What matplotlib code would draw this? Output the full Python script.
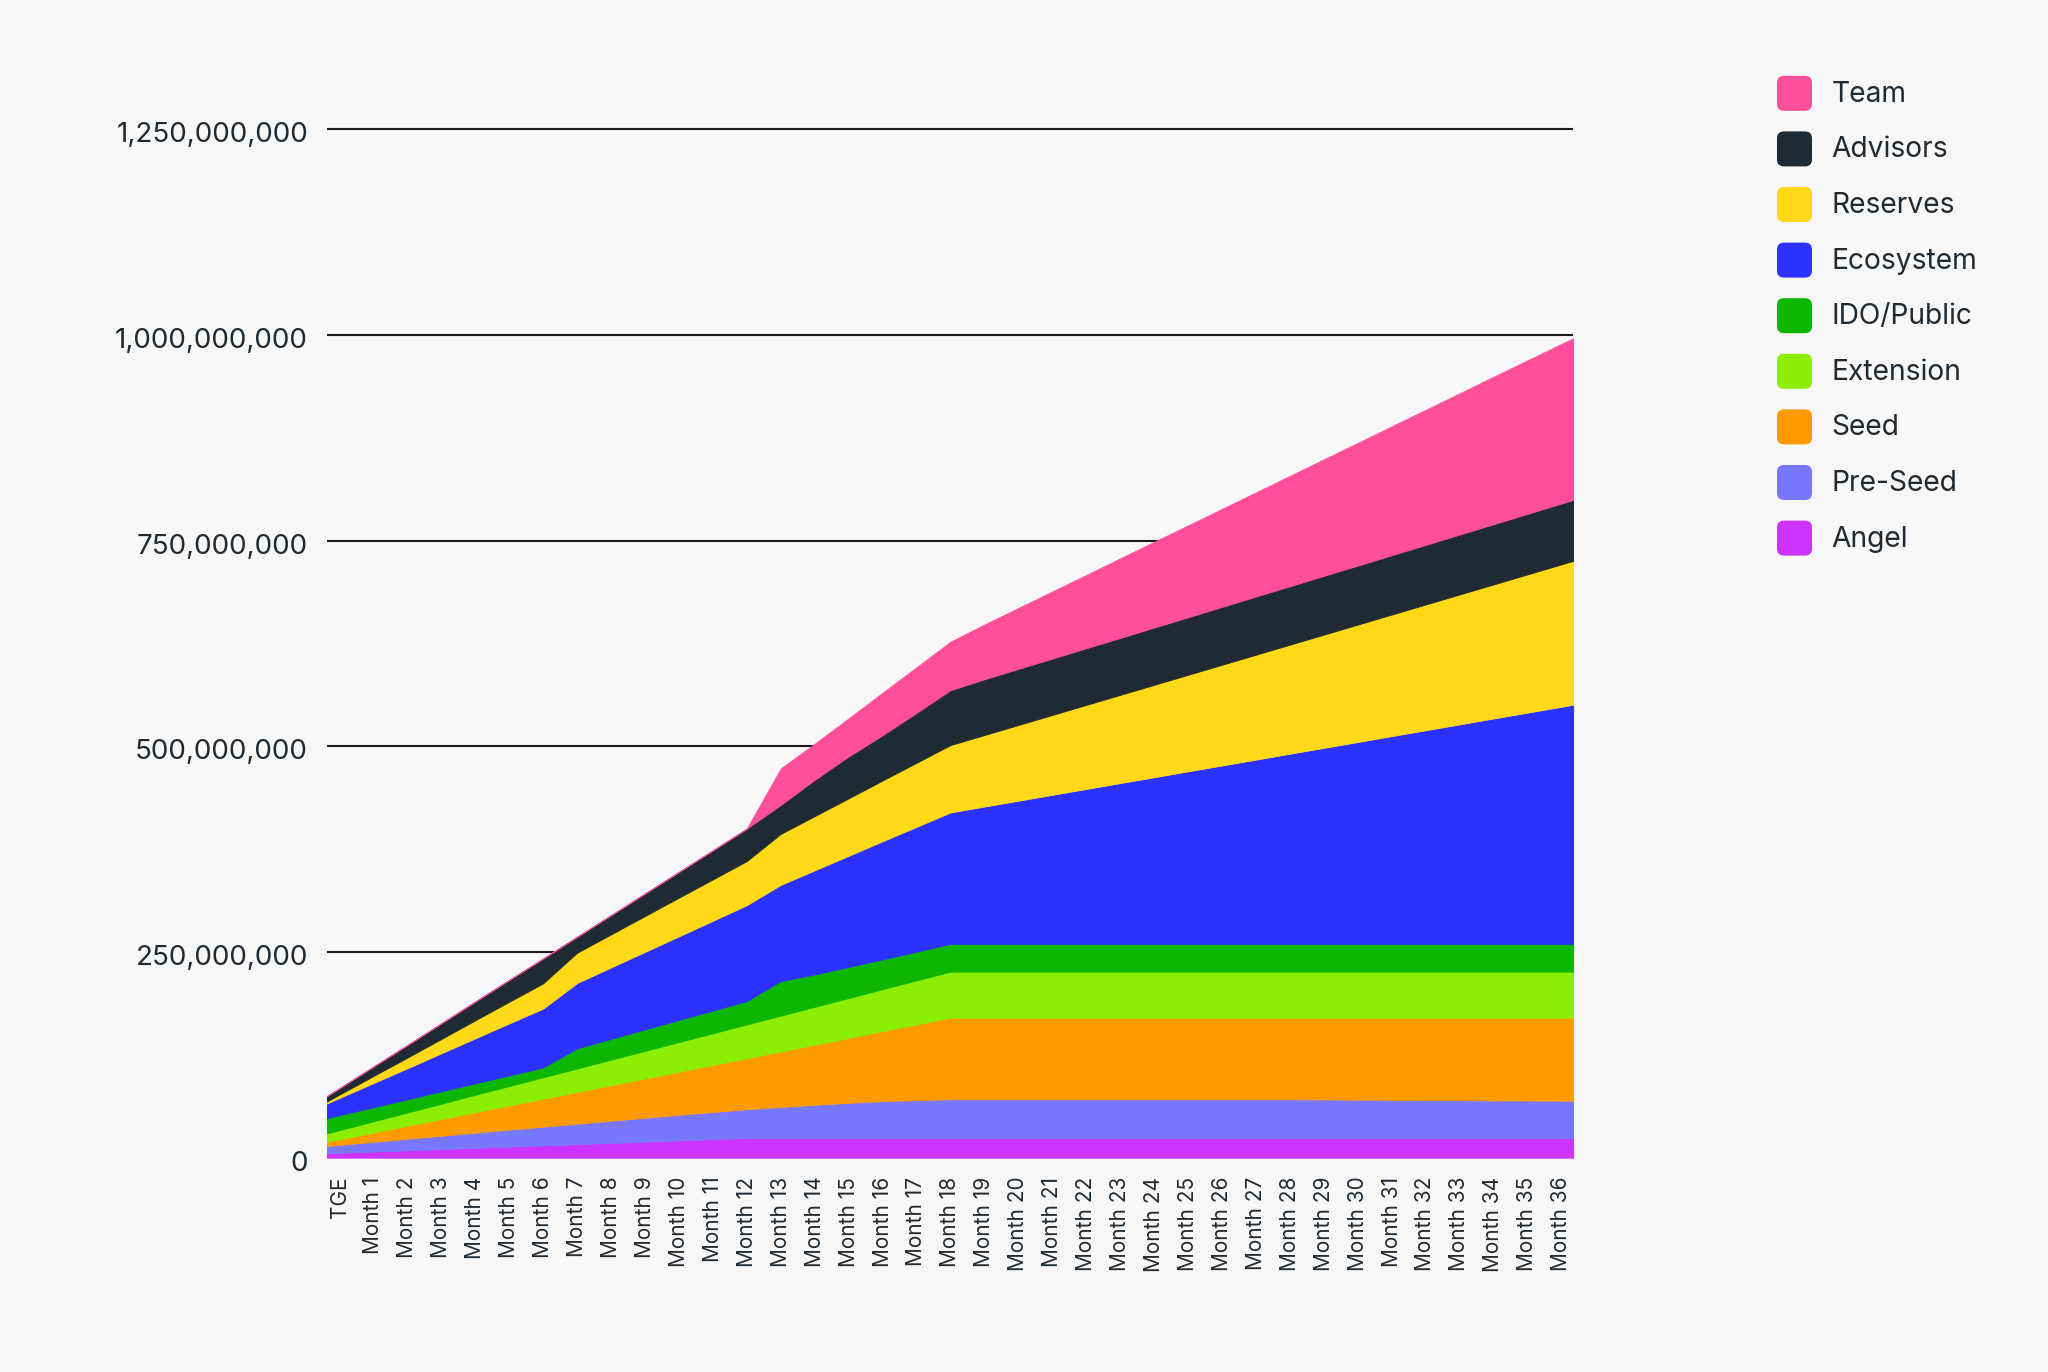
import numpy as np
import matplotlib
matplotlib.use("Agg")
import matplotlib.pyplot as plt
from matplotlib.patches import FancyBboxPatch
from matplotlib.ticker import FuncFormatter
from matplotlib.transforms import ScaledTranslation

plt.rcParams['font.family'] = ['Inter', 'DejaVu Sans']

months = list(range(37))
month_labels = ['TGE'] + ['Month %d' % i for i in range(1, 37)]

# unlocked tokens per allocation, in millions
angel = [6.0, 7.5, 9.0, 10.5, 12.0, 13.5, 15.0, 16.5, 18.0, 19.5, 21.0, 22.5, 24.0,
         24.0, 24.0, 24.0, 24.0, 24.0, 24.0, 24.0, 24.0, 24.0, 24.0, 24.0, 24.0,
         24.0, 24.0, 24.0, 24.0, 24.0, 24.0, 24.0, 24.0, 24.0, 24.0, 24.0, 24.0]
pre_seed = [9.6, 11.8, 14.0, 16.2, 18.4, 20.6, 22.7, 24.8, 26.9, 29.0, 31.1, 33.0, 34.9,
            37.6, 40.3, 42.7, 44.8, 46.0, 47.0, 47.0, 47.0, 47.0, 47.0, 47.0, 47.0,
            47.0, 47.0, 47.0, 47.0, 46.8, 46.6, 46.4, 46.2, 46.0, 45.7, 45.5, 45.3]
seed = [6.8, 11.3, 15.8, 20.3, 24.9, 29.4, 34.0, 38.6, 43.2, 47.8, 52.4, 57.2, 62.0,
        67.5, 73.0, 78.8, 85.0, 92.0, 99.2, 99.2, 99.2, 99.2, 99.2, 99.2, 99.2,
        99.2, 99.2, 99.2, 99.2, 99.4, 99.6, 99.8, 100.0, 100.2, 100.5, 100.7, 100.9]
extension = [11.1, 13.6, 16.1, 18.6, 21.1, 23.6, 26.0, 28.5, 31.0, 33.5, 36.0, 38.5, 41.0,
             43.5, 46.0, 48.5, 51.0, 53.4, 55.9, 55.9, 55.9, 55.9, 55.9, 55.9, 55.9,
             55.9, 55.9, 55.9, 55.9, 55.9, 55.9, 55.9, 55.9, 55.9, 55.9, 55.9, 55.9]
ido_public = [18.2, 17.2, 16.0, 15.1, 14.0, 12.9, 11.9, 24.5, 25.3, 26.1, 26.9, 27.6, 28.4,
              42.0, 39.4, 37.8, 36.2, 34.9, 33.7, 33.7, 33.7, 33.7, 33.7, 33.7, 33.7,
              33.7, 33.7, 33.7, 33.7, 33.7, 33.7, 33.7, 33.7, 33.7, 33.7, 33.7, 33.7]
ecosystem = [21.0, 29.3, 37.8, 46.2, 54.7, 63.2, 71.6, 79.4, 86.8, 94.2, 101.6, 109.1, 116.6,
             116.9, 126.5, 135.0, 143.5, 151.7, 159.7, 166.9, 174.0, 181.1, 188.3, 195.4, 202.5,
             209.7, 216.8, 223.9, 231.1, 238.2, 245.3, 252.5, 259.6, 266.7, 273.9, 281.0, 288.1]
reserves = [4.1, 8.6, 13.0, 17.4, 21.9, 26.3, 30.7, 36.8, 40.2, 43.6, 47.0, 50.3, 53.6,
            62.0, 65.9, 69.9, 73.9, 77.9, 81.9, 86.9, 92.0, 97.1, 102.1, 107.2, 112.3,
            117.3, 122.4, 127.5, 132.5, 137.6, 142.7, 147.7, 152.8, 157.9, 162.9, 168.0, 173.1]
advisors = [7.8, 11.5, 15.3, 19.1, 22.8, 26.6, 30.3, 19.4, 23.4, 27.4, 31.3, 35.4, 39.4,
            35.2, 44.0, 50.9, 55.0, 60.6, 66.7, 67.8, 68.2, 68.5, 68.9, 69.2, 69.6,
            69.9, 70.3, 70.7, 71.0, 71.4, 71.7, 72.1, 72.4, 72.8, 73.2, 73.5, 73.9]
team = [0, 0, 0, 0, 0, 0, 0, 0, 0, 0, 0, 0, 0,
        44.3, 43.9, 46.3, 51.6, 55.4, 58.9, 66.5, 74.0, 81.6, 89.0, 96.6, 104.1,
        111.6, 119.1, 126.5, 134.1, 141.6, 149.1, 156.6, 164.1, 171.6, 179.1, 186.6, 193.9]

# bottom to top
names = ['Angel', 'Pre-Seed', 'Seed', 'Extension', 'IDO/Public',
         'Ecosystem', 'Reserves', 'Advisors', 'Team']
colors = ['#cc33ff', '#7878ff', '#ff9a00', '#8cee05', '#0db700',
          '#2b32ff', '#ffd817', '#1f2a33', '#ff4f9b']

bg = '#f7f7f7'
text_color = '#1f2a33'

series = np.array([angel, pre_seed, seed, extension, ido_public,
                   ecosystem, reserves, advisors, team]) * 1e6
# extend one step each side so the bands run out to the plot edges
x = np.arange(-1, 38)
padded = np.pad(series, ((0, 0), (1, 1)), mode='reflect', reflect_type='odd')

fig = plt.figure(figsize=(20.48, 13.72), dpi=100, facecolor=bg)
ax = fig.add_axes([0.1597, 0.1562, 0.6084, 0.7797])
ax.set_facecolor(bg)

ax.stackplot(x, padded, colors=colors, linewidth=0.6, edgecolor='face')

ax.set_xlim(-0.368, 36.35)
ax.set_ylim(0, 1.3e9)
ax.set_yticks(np.arange(0, 1.26e9, 2.5e8))
ax.yaxis.set_major_formatter(FuncFormatter(lambda v, p: f'{v:,.0f}'))
ax.grid(axis='y', color='#1c1c1c', linewidth=1.5)
ax.set_axisbelow(True)
for s in ax.spines.values():
    s.set_visible(False)

ax.set_xticks(months)
ax.set_xticklabels(month_labels, rotation=90)
ax.tick_params(axis='x', length=0, pad=13.7, labelsize=15, labelcolor=text_color)
ax.tick_params(axis='y', length=0, pad=13.7, labelsize=20, labelcolor=text_color)
# y labels sit a touch below their grid lines
shift = ScaledTranslation(0, -3 / 100, fig.dpi_scale_trans)
for lab in ax.get_yticklabels():
    lab.set_transform(lab.get_transform() + shift)

# legend, drawn in pixel units (top to bottom: Team ... Angel)
lax = fig.add_axes([1750 / 2048, (1372 - 570) / 1372, 298 / 2048, 520 / 1372])
lax.set_xlim(1750, 2048)
lax.set_ylim(570, 50)
lax.axis('off')
for i, (name, col) in enumerate(zip(names[::-1], colors[::-1])):
    yc = 93.3 + i * 55.6
    lax.add_patch(FancyBboxPatch((1777, yc - 17.5), 35, 35,
                                 boxstyle='round,pad=0,rounding_size=7',
                                 facecolor=col, edgecolor='none'))
    lax.text(1831.5, yc + 1, name, fontsize=20.3, color=text_color, va='center', ha='left')

fig.savefig('out.png', dpi=100, facecolor=bg)
